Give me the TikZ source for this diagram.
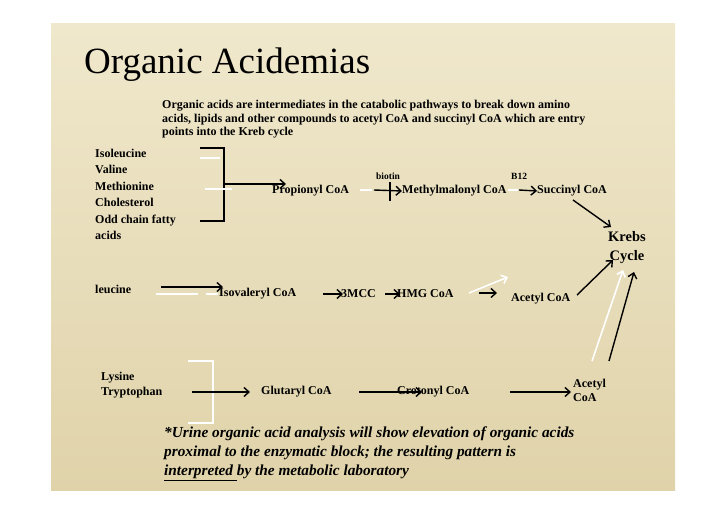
\documentclass[tikz,border=0pt]{standalone}
\usepackage{fontspec}
\setmainfont{Liberation Serif}
\usetikzlibrary{arrows.meta}
\begin{document}
\begin{tikzpicture}[x=1pt,y=-1pt,
  txt/.style={anchor=west,inner sep=0pt,font=\fontsize{12}{13}\selectfont\bfseries},
  blk/.style={line width=1.4pt,-{Straight Barb[length=5pt,width=9pt]}},
  blkline/.style={line width=1.4pt},
  wht/.style={line width=1.6pt,white},
  whtarr/.style={line width=1.6pt,white,-{Straight Barb[length=5pt,width=9pt]}}]
\useasboundingbox (0,0) rectangle (728,514);
\fill[white] (0,0) rectangle (728,514);
\shade[top color={rgb,255:red,240;green,232;blue,204},bottom color={rgb,255:red,224;green,211;blue,170}] (51,23) rectangle (675,490);
\node[anchor=base west,inner sep=0pt,font=\fontsize{37}{40}\selectfont] (title) at (84,73) {Organic Acidemias};
\node[txt,align=left,font=\fontsize{12}{13.6}\selectfont\bfseries,anchor=north west] (intro) at (162,100) {Organic acids are intermediates in the catabolic pathways to break down amino\\acids, lipids and other compounds to acetyl CoA and succinyl CoA which are entry\\points into the Kreb cycle};
\node[txt,align=left,font=\fontsize{12}{16.4}\selectfont\bfseries,anchor=north west] (list) at (95,149) {Isoleucine\\Valine\\Methionine\\Cholesterol\\Odd chain fatty\\acids};
% bracket
\coordinate (bt) at (200,148); \coordinate (bb) at (200,221);
\draw[blkline] (bt) -- (224,148) -- (224,221) -- (bb);
\draw[wht] (200,158) -- (220,158);
\draw[wht] (205,189) -- (232,189);
\node[txt] (prop) at (272,191) {Propionyl CoA};
\coordinate (a1) at (224,184);
\draw[blk] (a1) -- (286,184);
\node[txt,font=\fontsize{9.5}{10}\selectfont\bfseries] (biotin) at (376,176) {biotin};
\node[txt] (mm) at (402,191) {Methylmalonyl CoA};
\node[txt,font=\fontsize{9.5}{10}\selectfont\bfseries] (b12) at (511,176) {B12};
\node[txt] (suc) at (537,191) {Succinyl CoA};
\draw[wht] (360,190) -- (372,190);
\draw[blk] (374,190) -- (mm.west);
\draw[line width=2.4pt] (390,182) -- (390,201);
\draw[wht] (508,190) -- (518,190);
\draw[blk] (519,190) -- (suc.west);
\node[anchor=west,inner sep=0pt,align=center,font=\fontsize{14.5}{19}\selectfont\bfseries] (krebs) at (608,248) {Krebs\\Cycle};
\draw[blk] (573,200) -- (611,227);
% leucine row
\node[txt] (leu) at (95,289) {leucine};
\draw[wht] (156,294) -- (198,294);
\draw[wht] (206,294) -- (218,294);
\draw[blk] (161,287) -- (223,287);
\node[txt] (iso) at (219,294) {Isovaleryl CoA};
\draw[blk] (323,294) -- (343,294);
\node[txt] (mcc) at (341,294) {3MCC};
\draw[blk] (385,294) -- (400,294);
\node[txt] (hmg) at (397,294) {HMG CoA};
\draw[whtarr] (469,293) -- (508,277);
\draw[blk] (479,293) -- (497,293);
\node[txt] (acet1) at (511,299) {Acetyl CoA};
\draw[blk] (577,295) -- (613,260);
% lysine row
\draw[white,line width=1.2pt] (188,361) -- (213,361) -- (213,423) -- (188,423);
\node[txt,align=left,font=\fontsize{12}{15}\selectfont\bfseries] (lys) at (101,385) {Lysine\\Tryptophan};
\draw[blk] (192,392) -- (250,392);
\node[txt] (glu) at (261,392) {Glutaryl CoA};
\draw[blk] (359,392) -- (422,392);
\node[txt] (cro) at (397,392) {Crotonyl CoA};
\draw[blk] (510,392) -- (571,392);
\node[txt,align=left,font=\fontsize{12}{14}\selectfont\bfseries] (acet2) at (573,390) {Acetyl\\CoA};
\draw[whtarr] (592,361) -- (623,270);
\draw[blk] (609,361) -- (634,272);
% footnote
\node[anchor=north west,inner sep=0pt,align=left,font=\fontsize{15.3}{19}\selectfont\bfseries\itshape] (foot) at (164,427) {*Urine organic acid analysis will show elevation of organic acids\\proximal to the enzymatic block; the resulting pattern is\\\underline{interpreted }by the metabolic laboratory};
\end{tikzpicture}
\end{document}
